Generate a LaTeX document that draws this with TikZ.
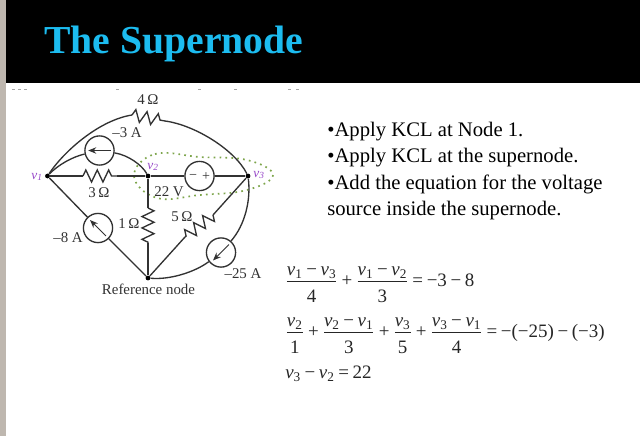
\documentclass[tikz,border=0pt]{standalone}
\usepackage{fontspec}
\setmainfont{Liberation Serif}
\usepackage{amsmath}
\usetikzlibrary{arrows.meta, decorations.pathmorphing}
\definecolor{titleblue}{RGB}{28, 188, 240}
\definecolor{stripgray}{RGB}{190, 183, 175}
\definecolor{wiregray}{RGB}{50, 50, 50}
\definecolor{nodeviolet}{RGB}{150, 70, 200}
\definecolor{superdot}{RGB}{125, 165, 75}
\newcommand{\vn}[1]{\textit{v}$_{\text{#1}}$}
\newcommand{\fr}[2]{$\dfrac{\text{\raisebox{-2pt}[0pt][0pt]{#1}}}{\text{\raisebox{-1.5pt}[0pt][0pt]{#2}}}$}
\newcommand{\tightsp}{\spaceskip=0.19em\relax}
\tikzset{
  wire/.style={draw=wiregray, line width=0.95pt},
  res/.style={wire, decorate, decoration={zigzag, segment length=2.85mm, amplitude=1.5mm}},
  junction/.style={circle, fill=black, inner sep=0pt, minimum size=1.2mm},
  source/.style={circle, wire, fill=white, inner sep=0pt, minimum size=7.3mm},
  srcarrow/.style={draw=wiregray, line width=0.7pt, -{Stealth[length=2mm, width=1.6mm]}, shorten >=1mm, shorten <=1mm},
  lbl/.style={font=\fontsize{10.6}{12}\selectfont, text=wiregray, inner sep=0pt},
  vlbl/.style={font=\fontsize{9.5}{10}\selectfont\itshape, text=nodeviolet, inner sep=0pt},
  eqn/.style={anchor=base west, inner sep=0pt, font=\fontsize{13.5}{16}\selectfont\tightsp, text=black!85}
}
\begin{document}
\begin{tikzpicture}[x=0.25mm, y=-0.25mm]
  \useasboundingbox (0,0) rectangle (640,436);
  \fill[white] (0,0) rectangle (640,436);
  \fill[stripgray] (0,0) rectangle (6,436);
  \fill[black] (6,0) rectangle (640,83);
  \node[font=\fontsize{28.2}{32}\selectfont\bfseries, text=titleblue, anchor=west, inner sep=0pt] (title) at (44,44) {The Supernode};

  % Clipped line under the header
  \foreach \xa in {12, 18, 24, 116, 198, 234, 288, 296}
    \fill[gray!70] (\xa,88.5) rectangle +(3,1);

  % Supernode outline
  \draw[superdot, line width=1.2pt, dash pattern=on 1.2pt off 3pt] plot[smooth cycle, tension=0.7] coordinates {(134,176) (155,154) (200,157) (247,160) (273,175) (247,190) (200,195) (157,198)};

  % Nodes
  \node[junction] (v1) at (47.5,176) {};
  \node[junction] (v2) at (148,176) {};
  \node[junction] (v3) at (248,176) {};
  \node[junction] (ref) at (148,278) {};

  \node[source] (s3) at (99.5,150.5) {};
  \node[source] (s8) at (98,228) {};
  \node[source] (s25) at (221,252.5) {};
  \node[source] (s22) at (199.5,176) {};

  \coordinate (r4a) at (132,115);
  \coordinate (r4b) at (165,121);
  \coordinate (r3a) at (83,176);
  \coordinate (r3b) at (117,176);
  \coordinate (r1a) at (148,208);
  \coordinate (r1b) at (148,243);
  \coordinate (r5a) at (213,215);
  \coordinate (r5b) at (185,237);

  % Branches
  \draw[wire] (v1) .. controls (65,150) and (100,120) .. (r4a);
  \draw[res] (r4a) -- (r4b);
  \draw[wire] (r4b) .. controls (195,125) and (235,150) .. (v3);
  \draw[wire] (v1) .. controls (58,165) and (72,157) .. (s3);
  \draw[wire] (s3) .. controls (128,155) and (142,165) .. (v2);
  \draw[wire] (v1) -- (r3a);
  \draw[res] (r3a) -- (r3b);
  \draw[wire] (r3b) -- (v2);
  \draw[wire] (v2) -- (s22);
  \draw[wire] (s22) -- (v3);
  \draw[wire] (v1) -- (s8);
  \draw[wire] (s8) -- (ref);
  \draw[wire] (v2) -- (r1a);
  \draw[res] (r1a) -- (r1b);
  \draw[wire] (r1b) -- (ref);
  \draw[wire] (v3) -- (r5a);
  \draw[res] (r5a) -- (r5b);
  \draw[wire] (r5b) -- (ref);
  \draw[wire] (v3) .. controls (251,200) and (245,225) .. (s25);
  \draw[wire] (s25) .. controls (195,272) and (170,280) .. (ref);

  % Source symbols
  \draw[srcarrow] (s3.east) -- (s3.west);
  \draw[srcarrow] (s8.-45) -- (s8.135);
  \draw[srcarrow] (s25.45) -- (s25.225);
  \node[lbl] (minus) at (193,176.5) {\fontsize{10}{10}\selectfont −};
  \node[lbl] (plus) at (206,176.5) {\fontsize{10}{10}\selectfont +};

  % Labels
  \node[lbl] (l4) at (148,100) {4\,Ω};
  \node[lbl] (l3a) at (127,133) {–3 A};
  \node[lbl] (l3) at (99,193) {3\,Ω};
  \node[lbl] (l22) at (169,192) {22 V};
  \node[lbl] (l1) at (129,224) {1\,Ω};
  \node[lbl] (l5) at (182,217) {5\,Ω};
  \node[lbl] (l8a) at (68,238) {–8 A};
  \node[lbl] (l25a) at (243,274) {–25 A};
  \node[lbl] (lref) at (148.5,289) {Reference node};
  \node[vlbl] (lv1) at (37,177) {v\textsubscript{1}};
  \node[vlbl] (lv2) at (153,167) {v\textsubscript{2}};
  \node[vlbl] (lv3) at (259,175) {v\textsubscript{3}};

  % Steps
  \node[anchor=west, inner sep=0pt, align=left, font=\fontsize{14.7}{18.7}\selectfont] (steps) at (327,171) {
    •Apply KCL at Node 1.\\
    •Apply KCL at the supernode.\\
    •Add the equation for the voltage\\
    source inside the supernode.
  };

  % Equations
  \node[eqn] (eq1) at (285,286.5) {\fr{\vn{1} − \vn{3}}{4} + \fr{\vn{1} − \vn{2}}{3} = −3 − 8};
  \node[eqn] (eq2) at (285,337.5) {\fr{\vn{2}}{1} + \fr{\vn{2} − \vn{1}}{3} + \fr{\vn{3}}{5} + \fr{\vn{3} − \vn{1}}{4} = −(−25) − (−3)};
  \node[eqn] (eq3) at (285,378) {\vn{3} − \vn{2} = 22};
\end{tikzpicture}
\end{document}
